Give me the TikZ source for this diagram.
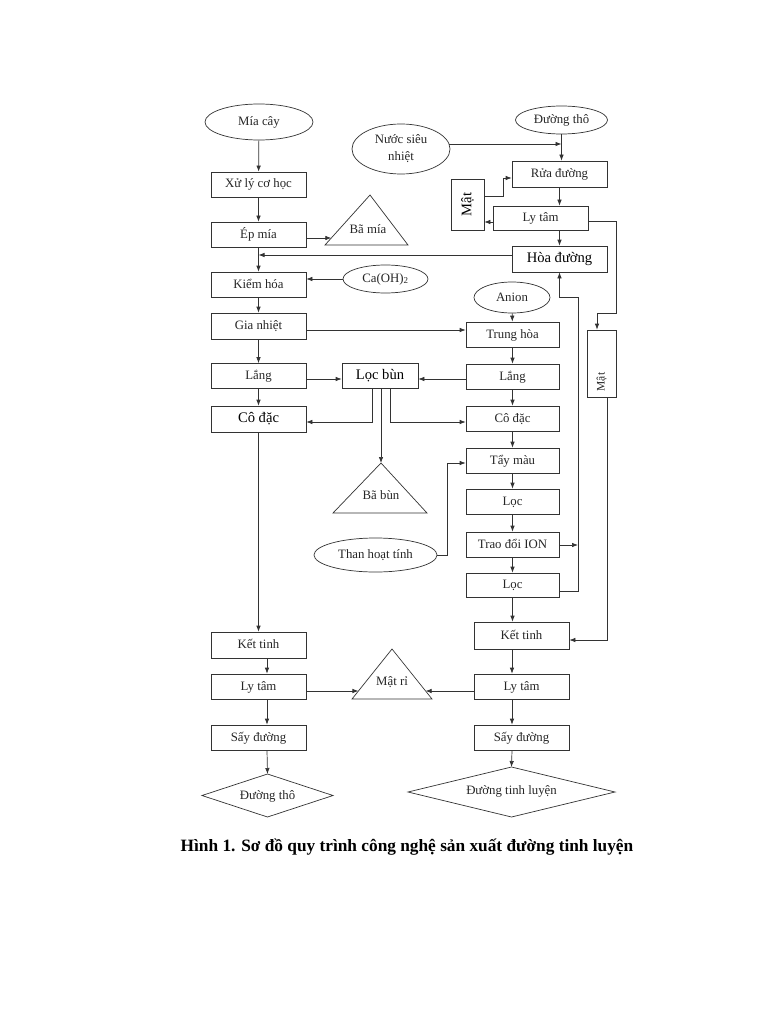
\documentclass[tikz,border=0pt]{standalone}
\usepackage{fontspec}
\setmainfont{Liberation Serif}
\usetikzlibrary{shapes.geometric,arrows.meta}
\begin{document}
\begin{tikzpicture}[x=1pt,y=-1pt,
  ln/.style={draw=black!80, line width=0.7pt},
  arr/.style={ln,-{Latex[length=6pt,width=4.5pt]}},
  box/.style={draw=black!80, line width=0.7pt, minimum width=95pt, minimum height=25pt, inner sep=0pt, text height=9pt, text depth=2pt, font=\fontsize{12.8}{14}\selectfont, text=black!85},
  bigbox/.style={box, text height=10pt, text depth=2.5pt, font=\fontsize{14.6}{16}\selectfont, text=black},
  ell/.style={draw=black!80, line width=0.7pt, ellipse, inner sep=0pt, font=\fontsize{12.8}{14}\selectfont, text=black!85, align=center},
  lbl/.style={inner sep=0pt, text height=9pt, text depth=2pt, font=\fontsize{12.8}{14}\selectfont, text=black!85}
]
\path[fill=white] (0,0) rectangle (768,1024);

% left column
\node[ell, minimum width=108pt, minimum height=36pt] (miacay) at (259,122) {Mía cây};
\node[box] (xuly) at (258.5,184.5) {Xử lý cơ học};
\node[box] (epmia) at (258.5,234.5) {Ép mía};
\node[box] (kiemhoa) at (258.5,284.5) {Kiểm hóa};
\node[box, minimum height=26pt] (gianhiet) at (258.5,326) {Gia nhiệt};
\node[box] (lang1) at (258.5,376) {Lắng};
\node[bigbox, minimum height=26pt] (codac1) at (258.5,419) {Cô đặc};
\node[box, minimum height=26pt] (ketinh1) at (258.5,645) {Kết tinh};
\node[box] (lytam1) at (258.5,686.5) {Ly tâm};
\node[box] (saydg1) at (258.5,737.5) {Sấy đường};
\draw[ln] (202,795.5) -- (267.5,774) -- (333,795.5) -- (267.5,817) -- cycle;
\node[lbl] (dgtho) at (267.5,795.5) {Đường thô};

% middle
\node[ell, minimum width=85pt, minimum height=28pt] (caoh) at (385.5,279) {Ca(OH)\textsubscript{2}};
\draw[ln] (370,195) -- (408,245) -- (325,245) -- cycle;
\node[lbl] (bamia) at (368,230) {Bã mía};
\node[bigbox, minimum width=76pt] (locbun) at (380,376) {Lọc bùn};
\draw[ln] (381,463) -- (427,513) -- (333,513) -- cycle;
\node[lbl] (babun) at (381,496) {Bã bùn};
\draw[ln] (392,649) -- (432,699) -- (352,699) -- cycle;
\node[lbl] (matri) at (392,682) {Mật rỉ};
\node[ell, minimum width=123pt, minimum height=34pt] (thanhoat) at (375.5,555) {Than hoạt tính};

% top right
\node[ell, minimum width=98pt, minimum height=50pt, font=\fontsize{12.8}{17}\selectfont] (nuoc) at (401,149) {Nước siêu\\nhiệt};
\node[ell, minimum width=92pt, minimum height=28pt] (duongtho) at (561.5,120) {Đường thô};
\node[box, minimum height=26pt] (ruaduong) at (559.5,174) {Rửa đường};
\node[draw=black!80, line width=0.7pt, minimum width=33pt, minimum height=51pt, inner sep=0pt, font=\fontsize{14.6}{16}\selectfont] (matl) at (467.5,204.5) {\rotatebox{90}{Mật}};
\node[box, minimum height=24pt] (lytam0) at (540.5,218) {Ly tâm};
\node[bigbox, minimum height=26pt] (hoa) at (559.5,259) {Hòa đường};
\node[draw=black!80, line width=0.7pt, minimum width=29pt, minimum height=67pt, inner sep=0pt] (mr) at (601.5,363.5) {};
\node[inner sep=0pt, text=black!85, font=\fontsize{11.5}{13}\selectfont] (mrt) at (601.5,382) {\rotatebox{90}{Mật}};

% right column
\node[ell, minimum width=76pt, minimum height=31pt] (anion) at (512,297.5) {Anion};
\node[box, minimum width=93pt] (trunghoa) at (512.5,334.5) {Trung hòa};
\node[box, minimum width=93pt] (lang2) at (512.5,376.5) {Lắng};
\node[box, minimum width=93pt] (codac2) at (512.5,418.5) {Cô đặc};
\node[box, minimum width=93pt] (taymau) at (512.5,460.5) {Tẩy màu};
\node[box, minimum width=93pt] (loc1) at (512.5,501.5) {Lọc};
\node[box, minimum width=93pt] (traodoi) at (512.5,544.5) {Trao đổi ION};
\node[box, minimum width=93pt, minimum height=24pt] (loc2) at (512.5,585) {Lọc};
\node[box, minimum height=27pt] (ketinh2) at (521.5,635.5) {Kết tinh};
\node[box] (lytam2) at (521.5,686.5) {Ly tâm};
\node[box] (saydg2) at (521.5,737.5) {Sấy đường};
\draw[ln] (408,792) -- (511.5,767) -- (615,792) -- (511.5,817) -- cycle;
\node[lbl] (dgtl) at (511.5,791) {Đường tinh luyện};

% caption
\node[font=\bfseries\fontsize{17.3}{20}\selectfont] (cap) at (407,847) {Hình 1. Sơ đồ quy trình công nghệ sản xuất đường tinh luyện};

% coordinates
\coordinate (r1) at (258.5,255);
\coordinate (e1) at (331.3,238);
\coordinate (c330) at (0,330);
\coordinate (c379) at (0,379);
\coordinate (b1) at (372,422);
\coordinate (b3) at (390,422);
\coordinate (bbapex) at (381,463);
\coordinate (t1) at (447,463);
\coordinate (v1) at (578,545);
\coordinate (v2) at (578,591);
\coordinate (v3) at (578,297);
\coordinate (v4) at (559.5,297);
\coordinate (w0) at (448.6,144);
\coordinate (w1) at (561.5,144);
\coordinate (y222) at (0,222);
\coordinate (m1) at (503,196);
\coordinate (m2) at (503,178);
\coordinate (k1) at (616,221);
\coordinate (k2) at (616,313);
\coordinate (k3) at (597,313);
\coordinate (n1) at (607,640);
\coordinate (xl) at (267,0);
\coordinate (xr) at (512,0);
\coordinate (mrl) at (358.4,691);
\coordinate (mrr) at (425.6,691);
\coordinate (dgthotop) at (267.5,774);
\coordinate (dgtltop) at (511.5,767);

% left connectors
\draw[arr] (miacay) -- (xuly);
\draw[arr] (xuly) -- (epmia);
\draw[arr] (epmia) -- (kiemhoa);
\draw[arr] (hoa.west |- r1) -- (r1);
\draw[arr] (epmia.east |- e1) -- (e1);
\draw[arr] (caoh) -- (kiemhoa.east |- caoh);
\draw[arr] (kiemhoa) -- (gianhiet);
\draw[arr] (gianhiet) -- (lang1);
\draw[arr] (lang1) -- (codac1);
\draw[arr] (gianhiet.east |- c330) -- (trunghoa.west |- c330);
\draw[arr] (lang1.east |- c379) -- (locbun.west |- c379);
\draw[arr] (lang2.west |- c379) -- (locbun.east |- c379);
\draw[arr] (locbun.south -| b1) -- (b1) -- (codac1.east |- b1);
\draw[arr] (locbun.south -| bbapex) -- (bbapex);
\draw[arr] (locbun.south -| b3) -- (b3) -- (codac2.west |- b3);
\draw[arr] (codac1) -- (ketinh1);

% right column connectors
\draw[arr] (anion) -- (trunghoa);
\draw[arr] (trunghoa) -- (lang2);
\draw[arr] (lang2) -- (codac2);
\draw[arr] (codac2) -- (taymau);
\draw[arr] (taymau) -- (loc1);
\draw[arr] (loc1) -- (traodoi);
\draw[arr] (traodoi) -- (loc2);
\draw[arr] (thanhoat.east) -- (thanhoat.east -| t1) -- (t1) -- (taymau.west |- t1);
\draw[arr] (traodoi.east |- v1) -- (v1);
\draw[arr] (loc2.east |- v2) -- (v2) -- (v3) -- (v4) -- (hoa.south);

% top right connectors
\draw[arr] (w0) -- (w1);
\draw[arr] (duongtho) -- (ruaduong.north -| duongtho);
\draw[arr] (ruaduong.south) -- (lytam0.north -| ruaduong.south);
\draw[arr] (lytam0.south -| hoa.north) -- (hoa.north);
\draw[arr] (lytam0.west |- y222) -- (matl.east |- y222);
\draw[arr] (matl.east |- m1) -- (m1) -- (m2) -- (ruaduong.west |- m2);
\draw[arr] (lytam0.east |- k1) -- (k1) -- (k2) -- (k3) -- (mr.north -| k3);
\draw[arr] (mr.south -| n1) -- (n1) -- (ketinh2.east |- n1);

% bottom connectors
\draw[arr] (ketinh1.south -| xl) -- (lytam1.north -| xl);
\draw[arr] (lytam1.south -| xl) -- (saydg1.north -| xl);
\draw[arr] (saydg1.south -| xl) -- (dgthotop);
\draw[arr] (lytam1.east |- mrl) -- (mrl);
\draw[arr] (lytam2.west |- mrr) -- (mrr);
\draw[arr] (loc2.south) -- (ketinh2.north -| loc2.south);
\draw[arr] (ketinh2.south -| xr) -- (lytam2.north -| xr);
\draw[arr] (lytam2.south -| xr) -- (saydg2.north -| xr);
\draw[arr] (saydg2.south -| xr) -- (dgtltop);
\end{tikzpicture}
\end{document}
